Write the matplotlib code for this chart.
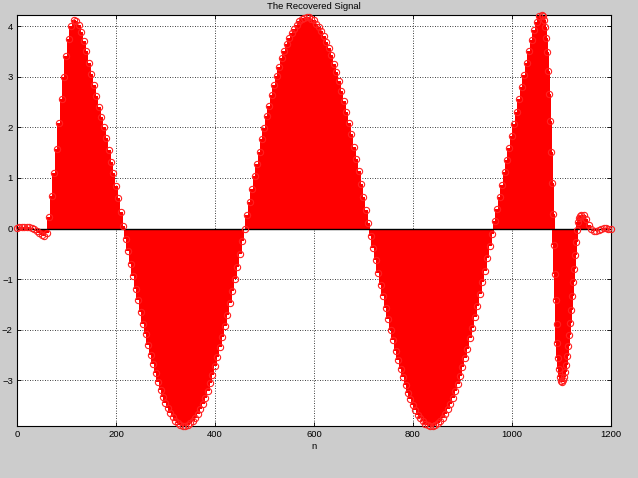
import numpy as np
import matplotlib.pyplot as plt

# sample index n (coarser where the signal is smooth, finer around the sharp drop)
n_smooth = list(range(0, 1060, 5))
n_sharp = list(range(1060, 1140, 2))
n_tail = list(range(1140, 1201, 5))
n = n_smooth + n_sharp + n_tail

# recovered signal values
x_smooth = [
    0.02, 0.03, 0.03, 0.03, 0.04, 0.03, 0.02, 0.00, -0.04, -0.09,
    -0.13, -0.14, -0.08, 0.22, 0.65, 1.10, 1.58, 2.08, 2.55, 3.00,
    3.40, 3.75, 4.00, 4.12, 4.10, 4.03, 3.88, 3.70, 3.50, 3.27,
    3.05, 2.83, 2.62, 2.40, 2.20, 2.00, 1.78, 1.55, 1.32, 1.10,
    0.85, 0.60, 0.33, 0.05, -0.20, -0.45, -0.70, -0.94, -1.19, -1.42,
    -1.65, -1.88, -2.09, -2.30, -2.50, -2.68, -2.86, -3.03, -3.18, -3.32,
    -3.44, -3.55, -3.65, -3.73, -3.80, -3.85, -3.88, -3.90, -3.90, -3.88,
    -3.85, -3.81, -3.74, -3.67, -3.57, -3.47, -3.34, -3.21, -3.06, -2.90,
    -2.72, -2.54, -2.34, -2.14, -1.92, -1.70, -1.47, -1.23, -0.99, -0.75,
    -0.50, -0.25, 0.00, 0.26, 0.52, 0.78, 1.03, 1.28, 1.52, 1.76,
    1.99, 2.22, 2.43, 2.64, 2.84, 3.02, 3.19, 3.36, 3.50, 3.64,
    3.76, 3.86, 3.95, 4.03, 4.09, 4.13, 4.16, 4.17, 4.17, 4.14,
    4.11, 4.05, 3.98, 3.90, 3.80, 3.69, 3.56, 3.42, 3.26, 3.09,
    2.91, 2.72, 2.52, 2.31, 2.09, 1.86, 1.62, 1.38, 1.13, 0.88,
    0.62, 0.36, 0.10, -0.15, -0.39, -0.63, -0.87, -1.11, -1.34, -1.57,
    -1.79, -2.01, -2.21, -2.41, -2.60, -2.77, -2.94, -3.10, -3.24, -3.37,
    -3.49, -3.59, -3.68, -3.75, -3.81, -3.86, -3.88, -3.90, -3.90, -3.88,
    -3.85, -3.80, -3.74, -3.66, -3.57, -3.46, -3.35, -3.21, -3.07, -2.91,
    -2.74, -2.56, -2.37, -2.17, -1.96, -1.75, -1.53, -1.30, -1.06, -0.83,
    -0.59, -0.34, -0.10, 0.15, 0.39, 0.63, 0.87, 1.11, 1.35, 1.59,
    1.83, 2.07, 2.31, 2.55, 2.79, 3.03, 3.27, 3.50, 3.72, 3.92,
    4.08, 4.20,
]
x_sharp = [
    4.22, 4.20, 4.12, 3.98, 3.76, 3.48, 3.12, 2.66, 2.12, 1.52,
    0.90, 0.28, -0.32, -0.90, -1.42, -1.88, -2.26, -2.56, -2.78, -2.93,
    -3.01, -3.03, -3.00, -2.94, -2.84, -2.70, -2.52, -2.32, -2.10, -1.86,
    -1.60, -1.33, -1.06, -0.79, -0.52, -0.26, -0.03, 0.12, 0.20, 0.25,
]
x_tail = [0.27, 0.26, 0.18, 0.08, 0.00, -0.04, -0.04, -0.02, 0.00, 0.01, 0.01, 0.00, 0.00]
x = np.array(x_smooth + x_sharp + x_tail)

xticks = [0, 200, 400, 600, 800, 1000, 1200]
yticks = [-3, -2, -1, 0, 1, 2, 3, 4]

plt.rcParams['font.family'] = ['Liberation Sans Narrow', 'Liberation Sans', 'DejaVu Sans']

fig = plt.figure(figsize=(6.38, 4.78), dpi=100, facecolor='#cccccc')
ax = fig.add_axes([0.0266, 0.1088, 0.931, 0.860])

markerline, stemlines, baseline = ax.stem(n, x, linefmt='r-', markerfmt='o', basefmt='k-')
stemlines.set_linewidth(2.6)
stemlines.set_antialiased(False)
stemlines.set_zorder(2)
markerline.set_markerfacecolor('none')
markerline.set_markeredgecolor('#ff2020')
markerline.set_markersize(4.5)
markerline.set_markeredgewidth(0.8)
markerline.set_zorder(4)
markerline.set_clip_on(False)
baseline.set_linewidth(1.0)
baseline.set_zorder(3)

ax.set_xlim(0, 1200)
ax.set_ylim(x.min(), x.max())
ax.set_xticks(xticks)
ax.set_yticks(yticks)
ax.grid(True, linestyle=(0, (1, 2)), color='black', linewidth=0.6)
ax.set_axisbelow(True)
ax.tick_params(direction='in', length=3, width=0.6, labelsize=6.8, pad=3,
               top=True, right=True)
for s in ax.spines.values():
    s.set_linewidth(0.8)

ax.set_title('The Recovered Signal', fontsize=6.8, pad=4)
ax.set_xlabel('n', fontsize=6.8, labelpad=2)

fig.savefig('out.png', dpi=100, facecolor=fig.get_facecolor())
